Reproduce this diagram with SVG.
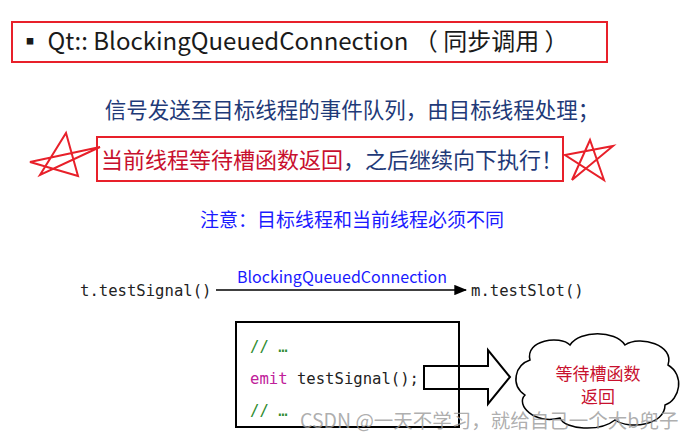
<svg xmlns="http://www.w3.org/2000/svg" width="694" height="440" viewBox="0 0 694 440">
<style>
.cn{font-family:"Noto Sans CJK SC","Liberation Sans",sans-serif}
.mono{font-family:"DejaVu Sans Mono","Liberation Mono",monospace;font-size:15.6px}
.red{stroke:#e8202a;fill:none;stroke-width:2}
</style>
<defs><marker id="ah" markerWidth="10" markerHeight="8" refX="9" refY="4" orient="auto"><path d="M0,0 L10,4 L0,8 Z" fill="#000"/></marker></defs>
<rect width="694" height="440" fill="#fff"/>
<g id="title">
<rect x="12" y="22" width="595" height="40" class="red"/>
<text x="18" y="50" class="cn" font-size="24" fill="#1a1a1a">▪ Qt:: BlockingQueuedConnection （ 同步调用 ）</text>
</g>
<g id="line1"><text x="352" y="118" text-anchor="middle" class="cn" font-size="21.5" fill="#1f3a78">信号发送至目标线程的事件队列，由目标线程处理；</text></g>
<g id="line2">
<rect x="97" y="137" width="466" height="44" class="red"/>
<text x="101" y="168" class="cn" font-size="22" fill="#c8102e">当前线程等待槽函数返回<tspan fill="#1f3a78">，之后继续向下执行！</tspan></text>
<path class="red" d="M30,162 L100,147 L40,175 L66,133 L78,176 Z"/>
<path class="red" d="M565,155 L613,146 L572,180 L590,140 L604,180 Z"/>
</g>
<g id="note"><text x="352" y="227" text-anchor="middle" class="cn" font-size="19" fill="#1a1aff">注意：目标线程和当前线程必须不同</text></g>
<g id="connectors">
<line x1="216" y1="290" x2="466" y2="290" stroke="#000" stroke-width="1.3" marker-end="url(#ah)"/>
<path d="M424,366 L488,366 L488,350 L510,377 L488,404 L488,389 L424,389 Z" fill="#fff" stroke="#000" stroke-width="2"/>
</g>
<g id="signal"><text x="80" y="296" class="mono" fill="#222">t.testSignal()</text></g>
<g id="label"><text x="342" y="283" text-anchor="middle" class="cn" font-size="16" fill="#1a1aff">BlockingQueuedConnection</text></g>
<g id="slot"><text x="471" y="296" class="mono" fill="#222">m.testSlot()</text></g>
<g id="code">
<rect x="236" y="322" width="223" height="105" fill="none" stroke="#000" stroke-width="2"/>
<text x="250" y="352" class="mono" fill="#2e8b2e">// …</text>
<text x="250" y="384" class="mono" fill="#222"><tspan fill="#c0209a">emit</tspan> testSignal();</text>
<text x="250" y="416" class="mono" fill="#2e8b2e">// …</text>
</g>
<g id="cloud">
<path d="M530,360 C525,340 560,335 570,345 C580,330 615,330 625,345 C640,335 675,345 668,365 C685,375 680,400 665,405 C665,425 630,430 615,420 C600,432 565,430 560,418 C535,425 515,405 525,395 C510,385 515,365 530,360 Z" fill="#fff" stroke="#000" stroke-width="1.5"/>
<text x="598" y="380" text-anchor="middle" class="cn" font-size="17" fill="#c8102e">等待槽函数</text>
<text x="598" y="403" text-anchor="middle" class="cn" font-size="17" fill="#c8102e">返回</text>
</g>
<text x="300" y="428" class="cn" font-size="19.5" fill="#999" fill-opacity="0.8">CSDN @一天不学习，就给自己一个大b兜子</text>
</svg>
